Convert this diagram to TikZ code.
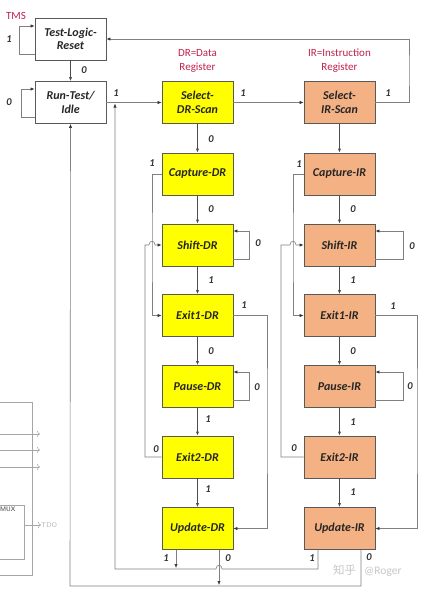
\documentclass[tikz,border=0pt]{standalone}
\usepackage{fontspec}
\setmainfont{Carlito}
\newfontfamily\cjk{Noto Sans CJK SC}
\usetikzlibrary{arrows.meta,calc}
\definecolor{dryel}{HTML}{FFFF00}
\definecolor{irorg}{HTML}{F4B183}
\definecolor{hdr}{HTML}{C0204A}
\definecolor{ln}{HTML}{808080}
\begin{document}
\begin{tikzpicture}[x=1pt,y=-1pt,
 box/.style={draw=black!65, line width=0.7pt, minimum width=71pt, minimum height=42pt, inner sep=1pt, align=center, font=\fontsize{12}{13.5}\selectfont\bfseries\itshape, text=black!85},
 dr/.style={box, fill=dryel},
 ir/.style={box, fill=irorg},
 wbox/.style={box, fill=white},
 con/.style={draw=ln, line width=0.6pt, -{Latex[length=4pt,width=3.2pt,color=black!80]}},
 dn/.style={draw=black!70, line width=0.8pt, -{Latex[length=4pt,width=3.2pt]}},
 lab/.style={font=\fontsize{10.5}{10.5}\selectfont\bfseries\itshape, text=black!80, inner sep=0},
 hd/.style={font=\fontsize{11}{14}\selectfont, text=hdr, align=center, inner sep=0},
 gr/.style={draw=gray!70, line width=0.6pt},
]
\useasboundingbox (0,0) rectangle (426,589);
% headings
\node[hd] (tms) at (16,16) {TMS};
\node[hd] (hdr) at (197.5,61) {DR=Data\\Register};
\node[hd] (hir) at (339.5,61) {IR=Instruction\\Register};
% states
\node[wbox] (tlr) at (70.5,39) {Test-Logic-\\Reset};
\node[wbox] (rti) at (70.5,102.5) {Run-Test/\\Idle};
\node[dr] (sdr) at (197.5,102.5) {Select-\\DR-Scan};
\node[ir] (sir) at (339.5,102.5) {Select-\\IR-Scan};
\node[dr] (cdr) at (197.5,174) {Capture-DR};
\node[dr] (shdr) at (197.5,245) {Shift-DR};
\node[dr] (e1dr) at (197.5,315.5) {Exit1-DR};
\node[dr] (pdr) at (197.5,386.5) {Pause-DR};
\node[dr] (e2dr) at (197.5,457) {Exit2-DR};
\node[dr] (udr) at (197.5,528.5) {Update-DR};
\node[ir] (cir) at (339.5,174) {Capture-IR};
\node[ir] (shir) at (339.5,245) {Shift-IR};
\node[ir] (e1ir) at (339.5,315.5) {Exit1-IR};
\node[ir] (pir) at (339.5,386.5) {Pause-IR};
\node[ir] (e2ir) at (339.5,457) {Exit2-IR};
\node[ir] (uir) at (339.5,528.5) {Update-IR};
% self loops
\draw[con] (tlr.west |- 0,54) -- (19,54) -- (19,26) -- (tlr.west |- 0,26);
\draw[con] (rti.west |- 0,117) -- (21,117) -- (21,89) -- (rti.west |- 0,89);
\draw[con] (shdr.east |- 0,259) -- (249,259) -- (249,231) -- (shdr.east |- 0,231);
\draw[con] (pdr.east |- 0,400) -- (249,400) -- (249,372) -- (pdr.east |- 0,372);
\draw[con] (shir.east |- 0,259) -- (403,259) -- (403,231) -- (shir.east |- 0,231);
\draw[con] (pir.east |- 0,400) -- (403,400) -- (403,372) -- (pir.east |- 0,372);
% main flow
\draw[dn] (tlr) -- (rti);
\draw[con] (rti) -- (sdr);
\draw[con] (sdr) -- (sir);
\draw[con] (sir.east) -| (409,70) |- (tlr.east);
\draw[dn] (sdr) -- (cdr);
\draw[dn] (cdr) -- (shdr);
\draw[dn] (shdr) -- (e1dr);
\draw[dn] (e1dr) -- (pdr);
\draw[dn] (pdr) -- (e2dr);
\draw[dn] (e2dr) -- (udr);
\draw[dn] (sir) -- (cir);
\draw[dn] (cir) -- (shir);
\draw[dn] (shir) -- (e1ir);
\draw[dn] (e1ir) -- (pir);
\draw[dn] (pir) -- (e2ir);
\draw[dn] (e2ir) -- (uir);
% skips
\draw[con] (cdr.west) -| (152,250) |- (e1dr.west);
\draw[con] (e2dr.west) -| (145,300) |- (149,245) .. controls (149,240) and (155,240) .. (155,245) -- (shdr.west);
\draw[con] (e1dr.east) -| (267,420) |- (udr.east);
\draw[con] (cir.west) -| (293,250) |- (e1ir.west);
\draw[con] (e2ir.west) -| (281,300) |- (290,245) .. controls (290,240) and (296,240) .. (296,245) -- (shir.west);
\draw[con] (e1ir.east) -| (417,420) |- (uir.east);
% bottom returns
\coordinate (jdr) at (115,103.5);
\draw[con] (udr.south -| 176,0) -- (176,568);
\draw[con] (uir.south -| 318,0) -- (318,569) -- (222,569) .. controls (222,564) and (216,564) .. (216,569) -- (115,569) -- (jdr);
\draw[con] (udr.south -| 219,0) -- (219,585);
\draw[con] (uir.south -| 361,0) -- (361,586) -- (70,586) -- (rti.south);
% labels
\node[lab] (l1) at (9,39) {1};
\node[lab] (l2) at (84,70) {0};
\node[lab] (l3) at (9,102) {0};
\node[lab] (l4) at (116,93) {1};
\node[lab] (l5) at (243,93) {1};
\node[lab] (l6) at (388,93) {1};
\node[lab] (l7) at (211,139) {0};
\node[lab] (l8) at (152,163) {1};
\node[lab] (l9) at (211,209) {0};
\node[lab] (l10) at (258,243) {0};
\node[lab] (l11) at (211,280) {1};
\node[lab] (l12) at (244,305) {1};
\node[lab] (l13) at (211,351) {0};
\node[lab] (l14) at (257,387) {0};
\node[lab] (l15) at (208,419) {1};
\node[lab] (l16) at (156,449) {0};
\node[lab] (l17) at (208,489) {1};
\node[lab] (m1) at (299,164) {1};
\node[lab] (m2) at (353,209) {0};
\node[lab] (m3) at (412,246) {0};
\node[lab] (m4) at (353,280) {1};
\node[lab] (m5) at (393,306) {1};
\node[lab] (m6) at (353,351) {0};
\node[lab] (m7) at (410,386) {0};
\node[lab] (m8) at (353,422) {1};
\node[lab] (m9) at (294,448) {0};
\node[lab] (m10) at (353,492) {1};
\node[lab] (b1) at (166,558) {1};
\node[lab] (b2) at (228,558) {0};
\node[lab] (b3) at (312,558) {1};
\node[lab] (b4) at (369,557) {0};
% partial circuit at left
\draw[gr] (-5,402) -- (32,402) -- (32,575) -- (-5,575);
\foreach \yy in {434,450,467} \draw[gr,-{To[length=3pt]}] (-2,\yy) -- (40,\yy);
\draw[gr] (-5,505) -- (24,505) -- (24,559) -- (-5,559);
\node[font=\fontsize{6.5}{7}\sffamily, text=black!80, anchor=west, inner sep=0] (mux) at (0,509) {MUX};
\node[font=\fontsize{7}{8}\sffamily, text=gray!55, anchor=west, inner sep=0] (tdo) at (41,525) {TDO};
\draw[gr,-{To[length=3pt]}] (24,525) -- (tdo.west);
% watermark
\node[font=\fontsize{11.5}{12}\selectfont, text=gray!45, anchor=west, inner sep=0] (wm) at (333,571) {{\cjk 知乎}\hspace{8pt}@Roger};
\end{tikzpicture}
\end{document}
